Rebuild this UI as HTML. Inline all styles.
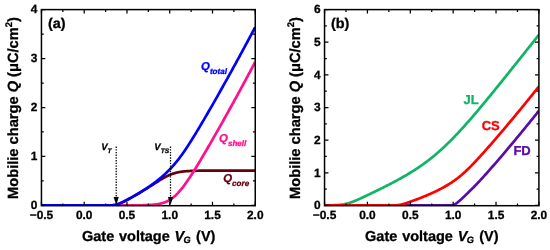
<!DOCTYPE html>
<html><head><meta charset="utf-8"><title>Mobile charge vs gate voltage</title>
<style>html,body{margin:0;padding:0;background:#fff}svg{display:block}</style></head>
<body>
<svg width="550" height="250" viewBox="0 0 550 250">
<style>
text{font-family:'Liberation Sans', sans-serif;font-weight:bold;text-rendering:geometricPrecision;stroke-width:0.3px;stroke-linejoin:round}
.tk,.ax,.pl,.vl{stroke:#000}
.tk{font-size:11.9px}
.ax{font-size:14.75px}
.pl{font-size:14px}
.ql{font-size:11.4px;font-style:italic}
.vl{font-size:9.5px;font-style:italic}
.cl{font-size:13px}
.c{fill:none;stroke-width:2.7;stroke-linejoin:round}
</style>
<rect width="550" height="250" fill="#fff"/>
<clipPath id="ca"><rect x="41.45" y="9.6" width="213.80" height="196.10"/></clipPath>
<clipPath id="cb"><rect x="324.55" y="9.6" width="214.35" height="196.10"/></clipPath>
<g clip-path="url(#ca)">
<path class="c" stroke="#640010" d="M41.45,205.35 L41.88,205.35 L42.31,205.35 L42.73,205.35 L43.16,205.35 L43.59,205.35 L44.02,205.35 L44.44,205.35 L44.87,205.35 L45.30,205.35 L45.73,205.35 L46.15,205.35 L46.58,205.35 L47.01,205.35 L47.44,205.35 L47.86,205.35 L48.29,205.35 L48.72,205.35 L49.15,205.35 L49.57,205.35 L50.00,205.35 L50.43,205.35 L50.86,205.35 L51.28,205.35 L51.71,205.35 L52.14,205.35 L52.57,205.35 L53.00,205.35 L53.42,205.35 L53.85,205.35 L54.28,205.35 L54.71,205.35 L55.13,205.35 L55.56,205.35 L55.99,205.35 L56.42,205.35 L56.84,205.35 L57.27,205.35 L57.70,205.35 L58.13,205.35 L58.55,205.35 L58.98,205.35 L59.41,205.35 L59.84,205.35 L60.26,205.35 L60.69,205.35 L61.12,205.35 L61.55,205.35 L61.97,205.35 L62.40,205.35 L62.83,205.35 L63.26,205.35 L63.69,205.35 L64.11,205.35 L64.54,205.35 L64.97,205.35 L65.40,205.35 L65.82,205.35 L66.25,205.35 L66.68,205.35 L67.11,205.35 L67.53,205.35 L67.96,205.35 L68.39,205.35 L68.82,205.35 L69.24,205.35 L69.67,205.35 L70.10,205.35 L70.53,205.35 L70.95,205.35 L71.38,205.35 L71.81,205.35 L72.24,205.35 L72.66,205.35 L73.09,205.35 L73.52,205.35 L73.95,205.35 L74.38,205.35 L74.80,205.35 L75.23,205.35 L75.66,205.35 L76.09,205.35 L76.51,205.35 L76.94,205.35 L77.37,205.35 L77.80,205.35 L78.22,205.35 L78.65,205.35 L79.08,205.35 L79.51,205.35 L79.93,205.35 L80.36,205.35 L80.79,205.35 L81.22,205.35 L81.64,205.35 L82.07,205.35 L82.50,205.35 L82.93,205.35 L83.35,205.35 L83.78,205.35 L84.21,205.35 L84.64,205.35 L85.07,205.35 L85.49,205.35 L85.92,205.35 L86.35,205.35 L86.78,205.35 L87.20,205.35 L87.63,205.35 L88.06,205.35 L88.49,205.35 L88.91,205.35 L89.34,205.35 L89.77,205.35 L90.20,205.35 L90.62,205.35 L91.05,205.35 L91.48,205.35 L91.91,205.35 L92.33,205.35 L92.76,205.35 L93.19,205.35 L93.62,205.35 L94.04,205.35 L94.47,205.35 L94.90,205.35 L95.33,205.35 L95.76,205.35 L96.18,205.35 L96.61,205.35 L97.04,205.35 L97.47,205.35 L97.89,205.35 L98.32,205.35 L98.75,205.35 L99.18,205.35 L99.60,205.35 L100.03,205.35 L100.46,205.35 L100.89,205.35 L101.31,205.35 L101.74,205.35 L102.17,205.35 L102.60,205.35 L103.02,205.35 L103.45,205.35 L103.88,205.35 L104.31,205.35 L104.73,205.35 L105.16,205.35 L105.59,205.35 L106.02,205.35 L106.45,205.35 L106.87,205.35 L107.30,205.35 L107.73,205.35 L108.16,205.35 L108.58,205.35 L109.01,205.35 L109.44,205.35 L109.87,205.35 L110.29,205.34 L110.72,205.32 L111.15,205.31 L111.58,205.29 L112.00,205.26 L112.43,205.24 L112.86,205.20 L113.29,205.16 L113.71,205.12 L114.14,205.07 L114.57,205.00 L115.00,204.93 L115.42,204.85 L115.85,204.76 L116.28,204.66 L116.71,204.55 L117.14,204.43 L117.56,204.29 L117.99,204.15 L118.42,204.00 L118.85,203.84 L119.27,203.67 L119.70,203.49 L120.13,203.31 L120.56,203.12 L120.98,202.93 L121.41,202.73 L121.84,202.53 L122.27,202.33 L122.69,202.12 L123.12,201.91 L123.55,201.70 L123.98,201.48 L124.40,201.26 L124.83,201.05 L125.26,200.83 L125.69,200.60 L126.11,200.38 L126.54,200.16 L126.97,199.93 L127.40,199.70 L127.83,199.48 L128.25,199.25 L128.68,199.02 L129.11,198.79 L129.54,198.55 L129.96,198.32 L130.39,198.09 L130.82,197.85 L131.25,197.62 L131.67,197.38 L132.10,197.14 L132.53,196.90 L132.96,196.67 L133.38,196.43 L133.81,196.18 L134.24,195.94 L134.67,195.70 L135.09,195.46 L135.52,195.21 L135.95,194.97 L136.38,194.72 L136.80,194.47 L137.23,194.22 L137.66,193.98 L138.09,193.73 L138.52,193.48 L138.94,193.22 L139.37,192.97 L139.80,192.72 L140.23,192.47 L140.65,192.21 L141.08,191.95 L141.51,191.70 L141.94,191.44 L142.36,191.18 L142.79,190.92 L143.22,190.66 L143.65,190.40 L144.07,190.14 L144.50,189.88 L144.93,189.62 L145.36,189.36 L145.78,189.09 L146.21,188.83 L146.64,188.56 L147.07,188.29 L147.49,188.03 L147.92,187.76 L148.35,187.49 L148.78,187.22 L149.21,186.95 L149.63,186.68 L150.06,186.41 L150.49,186.14 L150.92,185.87 L151.34,185.60 L151.77,185.33 L152.20,185.05 L152.63,184.78 L153.05,184.51 L153.48,184.24 L153.91,183.96 L154.34,183.69 L154.76,183.42 L155.19,183.15 L155.62,182.87 L156.05,182.60 L156.47,182.33 L156.90,182.06 L157.33,181.79 L157.76,181.52 L158.18,181.25 L158.61,180.99 L159.04,180.72 L159.47,180.46 L159.90,180.19 L160.32,179.93 L160.75,179.67 L161.18,179.41 L161.61,179.16 L162.03,178.90 L162.46,178.65 L162.89,178.40 L163.32,178.16 L163.74,177.91 L164.17,177.68 L164.60,177.44 L165.03,177.21 L165.45,176.98 L165.88,176.75 L166.31,176.53 L166.74,176.31 L167.16,176.10 L167.59,175.89 L168.02,175.69 L168.45,175.49 L168.87,175.29 L169.30,175.10 L169.73,174.92 L170.16,174.74 L170.59,174.56 L171.01,174.39 L171.44,174.23 L171.87,174.07 L172.30,173.92 L172.72,173.77 L173.15,173.62 L173.58,173.48 L174.01,173.35 L174.43,173.22 L174.86,173.10 L175.29,172.98 L175.72,172.86 L176.14,172.75 L176.57,172.65 L177.00,172.55 L177.43,172.45 L177.85,172.36 L178.28,172.27 L178.71,172.19 L179.14,172.11 L179.56,172.03 L179.99,171.96 L180.42,171.89 L180.85,171.82 L181.28,171.76 L181.70,171.70 L182.13,171.64 L182.56,171.59 L182.99,171.54 L183.41,171.49 L183.84,171.44 L184.27,171.40 L184.70,171.36 L185.12,171.32 L185.55,171.28 L185.98,171.24 L186.41,171.21 L186.83,171.18 L187.26,171.15 L187.69,171.12 L188.12,171.09 L188.54,171.06 L188.97,171.04 L189.40,171.02 L189.83,170.99 L190.25,170.97 L190.68,170.95 L191.11,170.93 L191.54,170.92 L191.97,170.90 L192.39,170.88 L192.82,170.87 L193.25,170.85 L193.68,170.84 L194.10,170.83 L194.53,170.81 L194.96,170.80 L195.39,170.79 L195.81,170.78 L196.24,170.77 L196.67,170.76 L197.10,170.75 L197.52,170.74 L197.95,170.73 L198.38,170.73 L198.81,170.72 L199.23,170.71 L199.66,170.71 L200.09,170.70 L200.52,170.69 L200.94,170.69 L201.37,170.68 L201.80,170.68 L202.23,170.67 L202.66,170.67 L203.08,170.66 L203.51,170.66 L203.94,170.65 L204.37,170.65 L204.79,170.65 L205.22,170.64 L205.65,170.64 L206.08,170.64 L206.50,170.63 L206.93,170.63 L207.36,170.63 L207.79,170.63 L208.21,170.62 L208.64,170.62 L209.07,170.62 L209.50,170.62 L209.92,170.61 L210.35,170.61 L210.78,170.61 L211.21,170.61 L211.63,170.61 L212.06,170.60 L212.49,170.60 L212.92,170.60 L213.35,170.60 L213.77,170.60 L214.20,170.60 L214.63,170.60 L215.06,170.60 L215.48,170.59 L215.91,170.59 L216.34,170.59 L216.77,170.59 L217.19,170.59 L217.62,170.59 L218.05,170.59 L218.48,170.59 L218.90,170.59 L219.33,170.59 L219.76,170.59 L220.19,170.58 L220.61,170.58 L221.04,170.58 L221.47,170.58 L221.90,170.58 L222.32,170.58 L222.75,170.58 L223.18,170.58 L223.61,170.58 L224.04,170.58 L224.46,170.58 L224.89,170.58 L225.32,170.58 L225.75,170.58 L226.17,170.58 L226.60,170.58 L227.03,170.58 L227.46,170.58 L227.88,170.58 L228.31,170.58 L228.74,170.58 L229.17,170.57 L229.59,170.57 L230.02,170.57 L230.45,170.57 L230.88,170.57 L231.30,170.57 L231.73,170.57 L232.16,170.57 L232.59,170.57 L233.01,170.57 L233.44,170.57 L233.87,170.57 L234.30,170.57 L234.73,170.57 L235.15,170.57 L235.58,170.57 L236.01,170.57 L236.44,170.57 L236.86,170.57 L237.29,170.57 L237.72,170.57 L238.15,170.57 L238.57,170.57 L239.00,170.57 L239.43,170.57 L239.86,170.57 L240.28,170.57 L240.71,170.57 L241.14,170.57 L241.57,170.57 L241.99,170.57 L242.42,170.57 L242.85,170.57 L243.28,170.57 L243.70,170.57 L244.13,170.57 L244.56,170.57 L244.99,170.57 L245.42,170.57 L245.84,170.57 L246.27,170.57 L246.70,170.57 L247.13,170.57 L247.55,170.57 L247.98,170.57 L248.41,170.57 L248.84,170.57 L249.26,170.57 L249.69,170.57 L250.12,170.57 L250.55,170.57 L250.97,170.57 L251.40,170.57 L251.83,170.57 L252.26,170.57 L252.68,170.57 L253.11,170.57 L253.54,170.57 L253.97,170.57 L254.39,170.57 L254.82,170.57 L255.25,170.57"/>
<path class="c" stroke="#ff0f8c" d="M41.45,205.35 L41.88,205.35 L42.31,205.35 L42.73,205.35 L43.16,205.35 L43.59,205.35 L44.02,205.35 L44.44,205.35 L44.87,205.35 L45.30,205.35 L45.73,205.35 L46.15,205.35 L46.58,205.35 L47.01,205.35 L47.44,205.35 L47.86,205.35 L48.29,205.35 L48.72,205.35 L49.15,205.35 L49.57,205.35 L50.00,205.35 L50.43,205.35 L50.86,205.35 L51.28,205.35 L51.71,205.35 L52.14,205.35 L52.57,205.35 L53.00,205.35 L53.42,205.35 L53.85,205.35 L54.28,205.35 L54.71,205.35 L55.13,205.35 L55.56,205.35 L55.99,205.35 L56.42,205.35 L56.84,205.35 L57.27,205.35 L57.70,205.35 L58.13,205.35 L58.55,205.35 L58.98,205.35 L59.41,205.35 L59.84,205.35 L60.26,205.35 L60.69,205.35 L61.12,205.35 L61.55,205.35 L61.97,205.35 L62.40,205.35 L62.83,205.35 L63.26,205.35 L63.69,205.35 L64.11,205.35 L64.54,205.35 L64.97,205.35 L65.40,205.35 L65.82,205.35 L66.25,205.35 L66.68,205.35 L67.11,205.35 L67.53,205.35 L67.96,205.35 L68.39,205.35 L68.82,205.35 L69.24,205.35 L69.67,205.35 L70.10,205.35 L70.53,205.35 L70.95,205.35 L71.38,205.35 L71.81,205.35 L72.24,205.35 L72.66,205.35 L73.09,205.35 L73.52,205.35 L73.95,205.35 L74.38,205.35 L74.80,205.35 L75.23,205.35 L75.66,205.35 L76.09,205.35 L76.51,205.35 L76.94,205.35 L77.37,205.35 L77.80,205.35 L78.22,205.35 L78.65,205.35 L79.08,205.35 L79.51,205.35 L79.93,205.35 L80.36,205.35 L80.79,205.35 L81.22,205.35 L81.64,205.35 L82.07,205.35 L82.50,205.35 L82.93,205.35 L83.35,205.35 L83.78,205.35 L84.21,205.35 L84.64,205.35 L85.07,205.35 L85.49,205.35 L85.92,205.35 L86.35,205.35 L86.78,205.35 L87.20,205.35 L87.63,205.35 L88.06,205.35 L88.49,205.35 L88.91,205.35 L89.34,205.35 L89.77,205.35 L90.20,205.35 L90.62,205.35 L91.05,205.35 L91.48,205.35 L91.91,205.35 L92.33,205.35 L92.76,205.35 L93.19,205.35 L93.62,205.35 L94.04,205.35 L94.47,205.35 L94.90,205.35 L95.33,205.35 L95.76,205.35 L96.18,205.35 L96.61,205.35 L97.04,205.35 L97.47,205.35 L97.89,205.35 L98.32,205.35 L98.75,205.35 L99.18,205.35 L99.60,205.35 L100.03,205.35 L100.46,205.35 L100.89,205.35 L101.31,205.35 L101.74,205.35 L102.17,205.35 L102.60,205.35 L103.02,205.35 L103.45,205.35 L103.88,205.35 L104.31,205.35 L104.73,205.35 L105.16,205.35 L105.59,205.35 L106.02,205.35 L106.45,205.35 L106.87,205.35 L107.30,205.35 L107.73,205.35 L108.16,205.35 L108.58,205.35 L109.01,205.35 L109.44,205.35 L109.87,205.35 L110.29,205.35 L110.72,205.35 L111.15,205.35 L111.58,205.35 L112.00,205.35 L112.43,205.35 L112.86,205.35 L113.29,205.35 L113.71,205.35 L114.14,205.35 L114.57,205.35 L115.00,205.35 L115.42,205.35 L115.85,205.35 L116.28,205.35 L116.71,205.35 L117.14,205.35 L117.56,205.35 L117.99,205.35 L118.42,205.35 L118.85,205.35 L119.27,205.35 L119.70,205.35 L120.13,205.35 L120.56,205.35 L120.98,205.35 L121.41,205.35 L121.84,205.35 L122.27,205.35 L122.69,205.35 L123.12,205.35 L123.55,205.35 L123.98,205.35 L124.40,205.35 L124.83,205.35 L125.26,205.35 L125.69,205.35 L126.11,205.35 L126.54,205.35 L126.97,205.35 L127.40,205.35 L127.83,205.35 L128.25,205.35 L128.68,205.35 L129.11,205.35 L129.54,205.35 L129.96,205.35 L130.39,205.35 L130.82,205.35 L131.25,205.35 L131.67,205.35 L132.10,205.35 L132.53,205.35 L132.96,205.35 L133.38,205.35 L133.81,205.35 L134.24,205.35 L134.67,205.34 L135.09,205.34 L135.52,205.34 L135.95,205.33 L136.38,205.33 L136.80,205.32 L137.23,205.32 L137.66,205.32 L138.09,205.31 L138.52,205.31 L138.94,205.30 L139.37,205.29 L139.80,205.29 L140.23,205.28 L140.65,205.27 L141.08,205.27 L141.51,205.26 L141.94,205.25 L142.36,205.24 L142.79,205.23 L143.22,205.22 L143.65,205.21 L144.07,205.20 L144.50,205.19 L144.93,205.17 L145.36,205.16 L145.78,205.14 L146.21,205.13 L146.64,205.11 L147.07,205.10 L147.49,205.08 L147.92,205.06 L148.35,205.04 L148.78,205.02 L149.21,204.99 L149.63,204.97 L150.06,204.94 L150.49,204.92 L150.92,204.89 L151.34,204.86 L151.77,204.82 L152.20,204.79 L152.63,204.75 L153.05,204.72 L153.48,204.68 L153.91,204.63 L154.34,204.59 L154.76,204.54 L155.19,204.49 L155.62,204.44 L156.05,204.38 L156.47,204.32 L156.90,204.26 L157.33,204.20 L157.76,204.13 L158.18,204.05 L158.61,203.98 L159.04,203.90 L159.47,203.81 L159.90,203.72 L160.32,203.63 L160.75,203.53 L161.18,203.42 L161.61,203.31 L162.03,203.20 L162.46,203.07 L162.89,202.95 L163.32,202.81 L163.74,202.67 L164.17,202.53 L164.60,202.37 L165.03,202.21 L165.45,202.04 L165.88,201.87 L166.31,201.68 L166.74,201.49 L167.16,201.29 L167.59,201.08 L168.02,200.86 L168.45,200.64 L168.87,200.40 L169.30,200.15 L169.73,199.90 L170.16,199.63 L170.59,199.36 L171.01,199.08 L171.44,198.78 L171.87,198.48 L172.30,198.16 L172.72,197.84 L173.15,197.50 L173.58,197.15 L174.01,196.80 L174.43,196.43 L174.86,196.05 L175.29,195.67 L175.72,195.27 L176.14,194.86 L176.57,194.44 L177.00,194.01 L177.43,193.57 L177.85,193.12 L178.28,192.66 L178.71,192.19 L179.14,191.72 L179.56,191.23 L179.99,190.73 L180.42,190.23 L180.85,189.71 L181.28,189.19 L181.70,188.66 L182.13,188.12 L182.56,187.58 L182.99,187.02 L183.41,186.46 L183.84,185.89 L184.27,185.32 L184.70,184.73 L185.12,184.15 L185.55,183.55 L185.98,182.95 L186.41,182.34 L186.83,181.73 L187.26,181.11 L187.69,180.49 L188.12,179.86 L188.54,179.22 L188.97,178.59 L189.40,177.94 L189.83,177.30 L190.25,176.65 L190.68,175.99 L191.11,175.33 L191.54,174.67 L191.97,174.00 L192.39,173.33 L192.82,172.66 L193.25,171.98 L193.68,171.30 L194.10,170.62 L194.53,169.94 L194.96,169.25 L195.39,168.56 L195.81,167.87 L196.24,167.17 L196.67,166.48 L197.10,165.78 L197.52,165.07 L197.95,164.37 L198.38,163.67 L198.81,162.96 L199.23,162.25 L199.66,161.54 L200.09,160.83 L200.52,160.11 L200.94,159.40 L201.37,158.68 L201.80,157.96 L202.23,157.24 L202.66,156.52 L203.08,155.80 L203.51,155.07 L203.94,154.35 L204.37,153.62 L204.79,152.89 L205.22,152.17 L205.65,151.44 L206.08,150.70 L206.50,149.97 L206.93,149.24 L207.36,148.51 L207.79,147.77 L208.21,147.03 L208.64,146.30 L209.07,145.56 L209.50,144.82 L209.92,144.08 L210.35,143.34 L210.78,142.60 L211.21,141.86 L211.63,141.11 L212.06,140.37 L212.49,139.62 L212.92,138.88 L213.35,138.13 L213.77,137.39 L214.20,136.64 L214.63,135.89 L215.06,135.14 L215.48,134.39 L215.91,133.64 L216.34,132.89 L216.77,132.14 L217.19,131.38 L217.62,130.63 L218.05,129.88 L218.48,129.12 L218.90,128.37 L219.33,127.61 L219.76,126.85 L220.19,126.09 L220.61,125.34 L221.04,124.58 L221.47,123.82 L221.90,123.06 L222.32,122.30 L222.75,121.54 L223.18,120.77 L223.61,120.01 L224.04,119.25 L224.46,118.48 L224.89,117.72 L225.32,116.95 L225.75,116.19 L226.17,115.42 L226.60,114.65 L227.03,113.89 L227.46,113.12 L227.88,112.35 L228.31,111.58 L228.74,110.81 L229.17,110.04 L229.59,109.27 L230.02,108.49 L230.45,107.72 L230.88,106.95 L231.30,106.17 L231.73,105.40 L232.16,104.63 L232.59,103.85 L233.01,103.07 L233.44,102.30 L233.87,101.52 L234.30,100.74 L234.73,99.96 L235.15,99.18 L235.58,98.40 L236.01,97.62 L236.44,96.84 L236.86,96.06 L237.29,95.28 L237.72,94.49 L238.15,93.71 L238.57,92.93 L239.00,92.14 L239.43,91.36 L239.86,90.57 L240.28,89.79 L240.71,89.00 L241.14,88.21 L241.57,87.42 L241.99,86.63 L242.42,85.84 L242.85,85.05 L243.28,84.26 L243.70,83.47 L244.13,82.68 L244.56,81.89 L244.99,81.10 L245.42,80.30 L245.84,79.51 L246.27,78.71 L246.70,77.92 L247.13,77.12 L247.55,76.33 L247.98,75.53 L248.41,74.73 L248.84,73.93 L249.26,73.14 L249.69,72.34 L250.12,71.54 L250.55,70.74 L250.97,69.93 L251.40,69.13 L251.83,68.33 L252.26,67.53 L252.68,66.72 L253.11,65.92 L253.54,65.12 L253.97,64.31 L254.39,63.50 L254.82,62.70 L255.25,61.89"/>
<path class="c" stroke="#0000ff" d="M41.45,205.35 L41.88,205.35 L42.31,205.35 L42.73,205.35 L43.16,205.35 L43.59,205.35 L44.02,205.35 L44.44,205.35 L44.87,205.35 L45.30,205.35 L45.73,205.35 L46.15,205.35 L46.58,205.35 L47.01,205.35 L47.44,205.35 L47.86,205.35 L48.29,205.35 L48.72,205.35 L49.15,205.35 L49.57,205.35 L50.00,205.35 L50.43,205.35 L50.86,205.35 L51.28,205.35 L51.71,205.35 L52.14,205.35 L52.57,205.35 L53.00,205.35 L53.42,205.35 L53.85,205.35 L54.28,205.35 L54.71,205.35 L55.13,205.35 L55.56,205.35 L55.99,205.35 L56.42,205.35 L56.84,205.35 L57.27,205.35 L57.70,205.35 L58.13,205.35 L58.55,205.35 L58.98,205.35 L59.41,205.35 L59.84,205.35 L60.26,205.35 L60.69,205.35 L61.12,205.35 L61.55,205.35 L61.97,205.35 L62.40,205.35 L62.83,205.35 L63.26,205.35 L63.69,205.35 L64.11,205.35 L64.54,205.35 L64.97,205.35 L65.40,205.35 L65.82,205.35 L66.25,205.35 L66.68,205.35 L67.11,205.35 L67.53,205.35 L67.96,205.35 L68.39,205.35 L68.82,205.35 L69.24,205.35 L69.67,205.35 L70.10,205.35 L70.53,205.35 L70.95,205.35 L71.38,205.35 L71.81,205.35 L72.24,205.35 L72.66,205.35 L73.09,205.35 L73.52,205.35 L73.95,205.35 L74.38,205.35 L74.80,205.35 L75.23,205.35 L75.66,205.35 L76.09,205.35 L76.51,205.35 L76.94,205.35 L77.37,205.35 L77.80,205.35 L78.22,205.35 L78.65,205.35 L79.08,205.35 L79.51,205.35 L79.93,205.35 L80.36,205.35 L80.79,205.35 L81.22,205.35 L81.64,205.35 L82.07,205.35 L82.50,205.35 L82.93,205.35 L83.35,205.35 L83.78,205.35 L84.21,205.35 L84.64,205.35 L85.07,205.35 L85.49,205.35 L85.92,205.35 L86.35,205.35 L86.78,205.35 L87.20,205.35 L87.63,205.35 L88.06,205.35 L88.49,205.35 L88.91,205.35 L89.34,205.35 L89.77,205.35 L90.20,205.35 L90.62,205.35 L91.05,205.35 L91.48,205.35 L91.91,205.35 L92.33,205.35 L92.76,205.35 L93.19,205.35 L93.62,205.35 L94.04,205.35 L94.47,205.35 L94.90,205.35 L95.33,205.35 L95.76,205.35 L96.18,205.35 L96.61,205.35 L97.04,205.35 L97.47,205.35 L97.89,205.35 L98.32,205.35 L98.75,205.35 L99.18,205.35 L99.60,205.35 L100.03,205.35 L100.46,205.35 L100.89,205.35 L101.31,205.35 L101.74,205.35 L102.17,205.35 L102.60,205.35 L103.02,205.35 L103.45,205.35 L103.88,205.35 L104.31,205.35 L104.73,205.35 L105.16,205.35 L105.59,205.35 L106.02,205.35 L106.45,205.35 L106.87,205.35 L107.30,205.35 L107.73,205.35 L108.16,205.35 L108.58,205.35 L109.01,205.35 L109.44,205.35 L109.87,205.35 L110.29,205.33 L110.72,205.32 L111.15,205.30 L111.58,205.29 L112.00,205.26 L112.43,205.23 L112.86,205.20 L113.29,205.16 L113.71,205.12 L114.14,205.06 L114.57,205.00 L115.00,204.93 L115.42,204.85 L115.85,204.76 L116.28,204.66 L116.71,204.54 L117.14,204.42 L117.56,204.29 L117.99,204.14 L118.42,203.99 L118.85,203.83 L119.27,203.66 L119.70,203.49 L120.13,203.30 L120.56,203.12 L120.98,202.92 L121.41,202.72 L121.84,202.52 L122.27,202.32 L122.69,202.11 L123.12,201.90 L123.55,201.68 L123.98,201.47 L124.40,201.25 L124.83,201.03 L125.26,200.81 L125.69,200.59 L126.11,200.36 L126.54,200.14 L126.97,199.91 L127.40,199.68 L127.83,199.45 L128.25,199.22 L128.68,198.99 L129.11,198.76 L129.54,198.53 L129.96,198.29 L130.39,198.06 L130.82,197.82 L131.25,197.58 L131.67,197.34 L132.10,197.10 L132.53,196.86 L132.96,196.62 L133.38,196.38 L133.81,196.13 L134.24,195.89 L134.67,195.64 L135.09,195.40 L135.52,195.15 L135.95,194.90 L136.38,194.65 L136.80,194.40 L137.23,194.15 L137.66,193.89 L138.09,193.64 L138.52,193.38 L138.94,193.12 L139.37,192.87 L139.80,192.61 L140.23,192.35 L140.65,192.08 L141.08,191.82 L141.51,191.56 L141.94,191.29 L142.36,191.02 L142.79,190.75 L143.22,190.48 L143.65,190.21 L144.07,189.94 L144.50,189.67 L144.93,189.39 L145.36,189.11 L145.78,188.83 L146.21,188.55 L146.64,188.27 L147.07,187.99 L147.49,187.70 L147.92,187.42 L148.35,187.13 L148.78,186.84 L149.21,186.55 L149.63,186.25 L150.06,185.96 L150.49,185.66 L150.92,185.36 L151.34,185.06 L151.77,184.75 L152.20,184.45 L152.63,184.14 L153.05,183.83 L153.48,183.51 L153.91,183.20 L154.34,182.88 L154.76,182.56 L155.19,182.24 L155.62,181.91 L156.05,181.59 L156.47,181.25 L156.90,180.92 L157.33,180.59 L157.76,180.25 L158.18,179.91 L158.61,179.56 L159.04,179.22 L159.47,178.87 L159.90,178.51 L160.32,178.16 L160.75,177.80 L161.18,177.43 L161.61,177.07 L162.03,176.70 L162.46,176.33 L162.89,175.95 L163.32,175.57 L163.74,175.19 L164.17,174.80 L164.60,174.41 L165.03,174.02 L165.45,173.62 L165.88,173.22 L166.31,172.81 L166.74,172.40 L167.16,171.99 L167.59,171.57 L168.02,171.15 L168.45,170.72 L168.87,170.29 L169.30,169.86 L169.73,169.42 L170.16,168.97 L170.59,168.52 L171.01,168.07 L171.44,167.61 L171.87,167.15 L172.30,166.68 L172.72,166.20 L173.15,165.72 L173.58,165.24 L174.01,164.75 L174.43,164.25 L174.86,163.75 L175.29,163.24 L175.72,162.73 L176.14,162.21 L176.57,161.69 L177.00,161.16 L177.43,160.62 L177.85,160.08 L178.28,159.54 L178.71,158.98 L179.14,158.43 L179.56,157.86 L179.99,157.29 L180.42,156.72 L180.85,156.14 L181.28,155.55 L181.70,154.96 L182.13,154.37 L182.56,153.77 L182.99,153.16 L183.41,152.55 L183.84,151.94 L184.27,151.32 L184.70,150.69 L185.12,150.06 L185.55,149.43 L185.98,148.79 L186.41,148.15 L186.83,147.51 L187.26,146.86 L187.69,146.21 L188.12,145.55 L188.54,144.89 L188.97,144.23 L189.40,143.56 L189.83,142.89 L190.25,142.22 L190.68,141.54 L191.11,140.87 L191.54,140.18 L191.97,139.50 L192.39,138.82 L192.82,138.13 L193.25,137.44 L193.68,136.74 L194.10,136.05 L194.53,135.35 L194.96,134.65 L195.39,133.95 L195.81,133.25 L196.24,132.54 L196.67,131.84 L197.10,131.13 L197.52,130.42 L197.95,129.71 L198.38,128.99 L198.81,128.28 L199.23,127.56 L199.66,126.84 L200.09,126.13 L200.52,125.41 L200.94,124.68 L201.37,123.96 L201.80,123.24 L202.23,122.51 L202.66,121.79 L203.08,121.06 L203.51,120.33 L203.94,119.60 L204.37,118.87 L204.79,118.14 L205.22,117.41 L205.65,116.68 L206.08,115.94 L206.50,115.21 L206.93,114.47 L207.36,113.73 L207.79,113.00 L208.21,112.26 L208.64,111.52 L209.07,110.78 L209.50,110.04 L209.92,109.29 L210.35,108.55 L210.78,107.81 L211.21,107.06 L211.63,106.32 L212.06,105.57 L212.49,104.83 L212.92,104.08 L213.35,103.33 L213.77,102.59 L214.20,101.84 L214.63,101.09 L215.06,100.34 L215.48,99.58 L215.91,98.83 L216.34,98.08 L216.77,97.33 L217.19,96.57 L217.62,95.82 L218.05,95.06 L218.48,94.31 L218.90,93.55 L219.33,92.79 L219.76,92.04 L220.19,91.28 L220.61,90.52 L221.04,89.76 L221.47,89.00 L221.90,88.24 L222.32,87.48 L222.75,86.72 L223.18,85.95 L223.61,85.19 L224.04,84.43 L224.46,83.66 L224.89,82.90 L225.32,82.13 L225.75,81.36 L226.17,80.60 L226.60,79.83 L227.03,79.06 L227.46,78.29 L227.88,77.52 L228.31,76.75 L228.74,75.98 L229.17,75.21 L229.59,74.44 L230.02,73.67 L230.45,72.90 L230.88,72.12 L231.30,71.35 L231.73,70.57 L232.16,69.80 L232.59,69.02 L233.01,68.25 L233.44,67.47 L233.87,66.69 L234.30,65.91 L234.73,65.13 L235.15,64.35 L235.58,63.57 L236.01,62.79 L236.44,62.01 L236.86,61.23 L237.29,60.45 L237.72,59.67 L238.15,58.88 L238.57,58.10 L239.00,57.31 L239.43,56.53 L239.86,55.74 L240.28,54.96 L240.71,54.17 L241.14,53.38 L241.57,52.59 L241.99,51.80 L242.42,51.01 L242.85,50.22 L243.28,49.43 L243.70,48.64 L244.13,47.85 L244.56,47.06 L244.99,46.27 L245.42,45.47 L245.84,44.68 L246.27,43.88 L246.70,43.09 L247.13,42.29 L247.55,41.50 L247.98,40.70 L248.41,39.90 L248.84,39.10 L249.26,38.30 L249.69,37.50 L250.12,36.70 L250.55,35.90 L250.97,35.10 L251.40,34.30 L251.83,33.50 L252.26,32.70 L252.68,31.89 L253.11,31.09 L253.54,30.28 L253.97,29.48 L254.39,28.67 L254.82,27.87 L255.25,27.06"/>
</g>
<path d="M116.2,146.5V198" stroke="#000" stroke-width="1.25" stroke-dasharray="1.4,1.3" fill="none"/>
<path d="M113.60000000000001,197.0L118.8,197.0L116.2,204.9Z" fill="#000"/>
<path d="M170.5,146.5V198" stroke="#000" stroke-width="1.25" stroke-dasharray="1.4,1.3" fill="none"/>
<path d="M167.9,197.0L173.1,197.0L170.5,204.9Z" fill="#000"/>
<rect x="41.45" y="9.6" width="213.80" height="196.10" fill="none" stroke="#000" stroke-width="1.5"/>
<path d="M41.45,205.7v-3.9M41.45,9.6v3.9M62.83,205.7v-2.3M62.83,9.6v2.3M84.21,205.7v-3.9M84.21,9.6v3.9M105.59,205.7v-2.3M105.59,9.6v2.3M126.97,205.7v-3.9M126.97,9.6v3.9M148.35,205.7v-2.3M148.35,9.6v2.3M169.73,205.7v-3.9M169.73,9.6v3.9M191.11,205.7v-2.3M191.11,9.6v2.3M212.49,205.7v-3.9M212.49,9.6v3.9M233.87,205.7v-2.3M233.87,9.6v2.3M255.25,205.7v-3.9M255.25,9.6v3.9M41.45,205.40h3.9M255.25,205.40h-3.9M41.45,156.45h3.9M255.25,156.45h-3.9M41.45,107.50h3.9M255.25,107.50h-3.9M41.45,58.55h3.9M255.25,58.55h-3.9M41.45,9.60h3.9M255.25,9.60h-3.9M41.45,180.93h2.3M255.25,180.93h-2.3M41.45,131.97h2.3M255.25,131.97h-2.3M41.45,83.03h2.3M255.25,83.03h-2.3M41.45,34.07h2.3M255.25,34.07h-2.3" stroke="#000" stroke-width="1.25" fill="none"/>
<text transform="translate(41.45,219.3) scale(1,1)" text-anchor="middle" class="tk">−0.5</text>
<text transform="translate(84.21,219.3) scale(1,1)" text-anchor="middle" class="tk">0.0</text>
<text transform="translate(126.97,219.3) scale(1,1)" text-anchor="middle" class="tk">0.5</text>
<text transform="translate(169.73,219.3) scale(1,1)" text-anchor="middle" class="tk">1.0</text>
<text transform="translate(212.49,219.3) scale(1,1)" text-anchor="middle" class="tk">1.5</text>
<text transform="translate(255.25,219.3) scale(1,1)" text-anchor="middle" class="tk">2.0</text>
<text transform="translate(37.45,209.15) scale(1,1)" text-anchor="end" class="tk">0</text>
<text transform="translate(37.45,160.20) scale(1,1)" text-anchor="end" class="tk">1</text>
<text transform="translate(37.45,111.25) scale(1,1)" text-anchor="end" class="tk">2</text>
<text transform="translate(37.45,62.30) scale(1,1)" text-anchor="end" class="tk">3</text>
<text transform="translate(37.45,13.35) scale(1,1)" text-anchor="end" class="tk">4</text>
<text transform="translate(148.7,241.1) scale(1,1)" text-anchor="middle" class="ax" style="font-size:14.5px;word-spacing:0.8px">Gate voltage <tspan font-style="italic">V</tspan><tspan font-style="italic" font-size="9.2" dy="2.3" dx="-0.7">G</tspan><tspan dy="-2.3" dx="0.5"> (V)</tspan></text>
<text transform="translate(17.5,108.0) rotate(-90) scale(0.993,1)" text-anchor="middle" class="ax">Mobilie charge <tspan font-style="italic">Q</tspan> (μC/cm<tspan font-size="9.6" dy="-5.8">2</tspan><tspan dy="5.8">)</tspan></text>
<text transform="translate(48.0,28.1) scale(1.03,1)" class="pl">(a)</text>
<text x="201.0" y="69.9" class="ql" fill="#0000ff" stroke="#0000ff">Q<tspan font-size="8.1" dy="4.1">total</tspan></text>
<text x="219.0" y="141.9" class="ql" fill="#ff0f8c" stroke="#ff0f8c">Q<tspan font-size="8.1" dy="4.1">shell</tspan></text>
<text x="223.2" y="181.6" class="ql" fill="#640010" stroke="#640010">Q<tspan font-size="8.1" dy="4.1">core</tspan></text>
<text transform="translate(101.2,150.2)" class="vl">V<tspan font-size="6.6" dy="2.9">T</tspan></text>
<text transform="translate(154.3,150.2)" class="vl">V<tspan font-size="6.6" dy="2.9">TS</tspan></text>
<g clip-path="url(#cb)">
<path class="c" stroke="#0fb464" d="M324.55,205.35 L324.98,205.35 L325.41,205.34 L325.84,205.34 L326.26,205.34 L326.69,205.34 L327.12,205.33 L327.55,205.33 L327.98,205.32 L328.41,205.32 L328.84,205.31 L329.27,205.31 L329.69,205.30 L330.12,205.30 L330.55,205.29 L330.98,205.28 L331.41,205.27 L331.84,205.27 L332.27,205.26 L332.70,205.25 L333.12,205.23 L333.55,205.22 L333.98,205.21 L334.41,205.19 L334.84,205.18 L335.27,205.16 L335.70,205.14 L336.12,205.12 L336.55,205.10 L336.98,205.08 L337.41,205.05 L337.84,205.02 L338.27,204.99 L338.70,204.96 L339.13,204.92 L339.55,204.89 L339.98,204.84 L340.41,204.80 L340.84,204.75 L341.27,204.70 L341.70,204.65 L342.13,204.59 L342.56,204.53 L342.98,204.46 L343.41,204.39 L343.84,204.32 L344.27,204.24 L344.70,204.15 L345.13,204.06 L345.56,203.97 L345.99,203.87 L346.41,203.77 L346.84,203.66 L347.27,203.55 L347.70,203.43 L348.13,203.31 L348.56,203.19 L348.99,203.06 L349.41,202.92 L349.84,202.78 L350.27,202.64 L350.70,202.49 L351.13,202.34 L351.56,202.19 L351.99,202.03 L352.42,201.87 L352.84,201.71 L353.27,201.54 L353.70,201.37 L354.13,201.20 L354.56,201.02 L354.99,200.85 L355.42,200.67 L355.85,200.49 L356.27,200.31 L356.70,200.12 L357.13,199.94 L357.56,199.75 L357.99,199.56 L358.42,199.37 L358.85,199.18 L359.27,198.99 L359.70,198.80 L360.13,198.60 L360.56,198.41 L360.99,198.21 L361.42,198.02 L361.85,197.82 L362.28,197.62 L362.70,197.42 L363.13,197.23 L363.56,197.03 L363.99,196.83 L364.42,196.63 L364.85,196.43 L365.28,196.22 L365.71,196.02 L366.13,195.82 L366.56,195.62 L366.99,195.41 L367.42,195.21 L367.85,195.01 L368.28,194.80 L368.71,194.60 L369.13,194.40 L369.56,194.19 L369.99,193.99 L370.42,193.78 L370.85,193.58 L371.28,193.37 L371.71,193.16 L372.14,192.96 L372.56,192.75 L372.99,192.54 L373.42,192.34 L373.85,192.13 L374.28,191.92 L374.71,191.71 L375.14,191.50 L375.57,191.29 L375.99,191.09 L376.42,190.88 L376.85,190.67 L377.28,190.46 L377.71,190.25 L378.14,190.04 L378.57,189.83 L378.99,189.61 L379.42,189.40 L379.85,189.19 L380.28,188.98 L380.71,188.77 L381.14,188.55 L381.57,188.34 L382.00,188.13 L382.42,187.91 L382.85,187.70 L383.28,187.48 L383.71,187.27 L384.14,187.05 L384.57,186.84 L385.00,186.62 L385.43,186.41 L385.85,186.19 L386.28,185.97 L386.71,185.75 L387.14,185.53 L387.57,185.32 L388.00,185.10 L388.43,184.88 L388.86,184.66 L389.28,184.43 L389.71,184.21 L390.14,183.99 L390.57,183.77 L391.00,183.55 L391.43,183.32 L391.86,183.10 L392.28,182.87 L392.71,182.65 L393.14,182.42 L393.57,182.20 L394.00,181.97 L394.43,181.74 L394.86,181.51 L395.29,181.28 L395.71,181.05 L396.14,180.82 L396.57,180.59 L397.00,180.36 L397.43,180.13 L397.86,179.89 L398.29,179.66 L398.72,179.43 L399.14,179.19 L399.57,178.95 L400.00,178.72 L400.43,178.48 L400.86,178.24 L401.29,178.00 L401.72,177.76 L402.14,177.52 L402.57,177.27 L403.00,177.03 L403.43,176.79 L403.86,176.54 L404.29,176.29 L404.72,176.05 L405.15,175.80 L405.57,175.55 L406.00,175.30 L406.43,175.05 L406.86,174.80 L407.29,174.54 L407.72,174.29 L408.15,174.03 L408.58,173.78 L409.00,173.52 L409.43,173.26 L409.86,173.00 L410.29,172.74 L410.72,172.47 L411.15,172.21 L411.58,171.94 L412.00,171.68 L412.43,171.41 L412.86,171.14 L413.29,170.87 L413.72,170.60 L414.15,170.32 L414.58,170.05 L415.01,169.77 L415.43,169.50 L415.86,169.22 L416.29,168.94 L416.72,168.66 L417.15,168.37 L417.58,168.09 L418.01,167.80 L418.44,167.51 L418.86,167.22 L419.29,166.93 L419.72,166.64 L420.15,166.35 L420.58,166.05 L421.01,165.75 L421.44,165.45 L421.86,165.15 L422.29,164.85 L422.72,164.54 L423.15,164.24 L423.58,163.93 L424.01,163.62 L424.44,163.31 L424.87,163.00 L425.29,162.68 L425.72,162.37 L426.15,162.05 L426.58,161.73 L427.01,161.40 L427.44,161.08 L427.87,160.75 L428.30,160.43 L428.72,160.10 L429.15,159.77 L429.58,159.43 L430.01,159.10 L430.44,158.76 L430.87,158.42 L431.30,158.08 L431.73,157.73 L432.15,157.39 L432.58,157.04 L433.01,156.69 L433.44,156.34 L433.87,155.99 L434.30,155.63 L434.73,155.28 L435.15,154.92 L435.58,154.56 L436.01,154.19 L436.44,153.83 L436.87,153.46 L437.30,153.09 L437.73,152.72 L438.16,152.35 L438.58,151.97 L439.01,151.60 L439.44,151.22 L439.87,150.84 L440.30,150.45 L440.73,150.07 L441.16,149.68 L441.59,149.29 L442.01,148.90 L442.44,148.51 L442.87,148.11 L443.30,147.71 L443.73,147.32 L444.16,146.91 L444.59,146.51 L445.01,146.11 L445.44,145.70 L445.87,145.29 L446.30,144.88 L446.73,144.47 L447.16,144.05 L447.59,143.64 L448.02,143.22 L448.44,142.80 L448.87,142.38 L449.30,141.96 L449.73,141.53 L450.16,141.10 L450.59,140.67 L451.02,140.24 L451.45,139.81 L451.87,139.38 L452.30,138.94 L452.73,138.50 L453.16,138.06 L453.59,137.62 L454.02,137.18 L454.45,136.74 L454.87,136.29 L455.30,135.84 L455.73,135.39 L456.16,134.94 L456.59,134.49 L457.02,134.04 L457.45,133.58 L457.88,133.13 L458.30,132.67 L458.73,132.21 L459.16,131.75 L459.59,131.28 L460.02,130.82 L460.45,130.36 L460.88,129.89 L461.31,129.42 L461.73,128.95 L462.16,128.48 L462.59,128.01 L463.02,127.54 L463.45,127.06 L463.88,126.58 L464.31,126.11 L464.73,125.63 L465.16,125.15 L465.59,124.67 L466.02,124.19 L466.45,123.70 L466.88,123.22 L467.31,122.73 L467.74,122.25 L468.16,121.76 L468.59,121.27 L469.02,120.78 L469.45,120.29 L469.88,119.80 L470.31,119.31 L470.74,118.81 L471.17,118.32 L471.59,117.82 L472.02,117.33 L472.45,116.83 L472.88,116.33 L473.31,115.83 L473.74,115.33 L474.17,114.83 L474.59,114.33 L475.02,113.83 L475.45,113.32 L475.88,112.82 L476.31,112.32 L476.74,111.81 L477.17,111.30 L477.60,110.80 L478.02,110.29 L478.45,109.78 L478.88,109.27 L479.31,108.76 L479.74,108.25 L480.17,107.74 L480.60,107.23 L481.03,106.71 L481.45,106.20 L481.88,105.69 L482.31,105.17 L482.74,104.66 L483.17,104.14 L483.60,103.63 L484.03,103.11 L484.46,102.59 L484.88,102.07 L485.31,101.56 L485.74,101.04 L486.17,100.52 L486.60,100.00 L487.03,99.48 L487.46,98.96 L487.88,98.44 L488.31,97.92 L488.74,97.39 L489.17,96.87 L489.60,96.35 L490.03,95.82 L490.46,95.30 L490.89,94.78 L491.31,94.25 L491.74,93.73 L492.17,93.20 L492.60,92.68 L493.03,92.15 L493.46,91.62 L493.89,91.10 L494.32,90.57 L494.74,90.04 L495.17,89.51 L495.60,88.99 L496.03,88.46 L496.46,87.93 L496.89,87.40 L497.32,86.87 L497.74,86.34 L498.17,85.81 L498.60,85.28 L499.03,84.75 L499.46,84.22 L499.89,83.69 L500.32,83.16 L500.75,82.63 L501.17,82.10 L501.60,81.56 L502.03,81.03 L502.46,80.50 L502.89,79.97 L503.32,79.44 L503.75,78.90 L504.18,78.37 L504.60,77.84 L505.03,77.30 L505.46,76.77 L505.89,76.24 L506.32,75.70 L506.75,75.17 L507.18,74.63 L507.60,74.10 L508.03,73.56 L508.46,73.03 L508.89,72.49 L509.32,71.96 L509.75,71.42 L510.18,70.89 L510.61,70.35 L511.03,69.82 L511.46,69.28 L511.89,68.74 L512.32,68.21 L512.75,67.67 L513.18,67.13 L513.61,66.60 L514.04,66.06 L514.46,65.52 L514.89,64.99 L515.32,64.45 L515.75,63.91 L516.18,63.38 L516.61,62.84 L517.04,62.30 L517.46,61.76 L517.89,61.23 L518.32,60.69 L518.75,60.15 L519.18,59.61 L519.61,59.07 L520.04,58.54 L520.47,58.00 L520.89,57.46 L521.32,56.92 L521.75,56.38 L522.18,55.84 L522.61,55.31 L523.04,54.77 L523.47,54.23 L523.90,53.69 L524.32,53.15 L524.75,52.61 L525.18,52.07 L525.61,51.53 L526.04,50.99 L526.47,50.45 L526.90,49.91 L527.33,49.38 L527.75,48.84 L528.18,48.30 L528.61,47.76 L529.04,47.22 L529.47,46.68 L529.90,46.14 L530.33,45.60 L530.75,45.06 L531.18,44.52 L531.61,43.98 L532.04,43.44 L532.47,42.90 L532.90,42.36 L533.33,41.82 L533.76,41.28 L534.18,40.74 L534.61,40.20 L535.04,39.66 L535.47,39.12 L535.90,38.58 L536.33,38.04 L536.76,37.50 L537.19,36.95 L537.61,36.41 L538.04,35.87 L538.47,35.33 L538.90,34.79"/>
<path class="c" stroke="#5a0ca6" d="M324.55,205.35 L324.98,205.35 L325.41,205.35 L325.84,205.35 L326.26,205.35 L326.69,205.35 L327.12,205.35 L327.55,205.35 L327.98,205.35 L328.41,205.35 L328.84,205.35 L329.27,205.35 L329.69,205.35 L330.12,205.35 L330.55,205.35 L330.98,205.35 L331.41,205.35 L331.84,205.35 L332.27,205.35 L332.70,205.35 L333.12,205.35 L333.55,205.35 L333.98,205.35 L334.41,205.35 L334.84,205.35 L335.27,205.35 L335.70,205.35 L336.12,205.35 L336.55,205.35 L336.98,205.35 L337.41,205.35 L337.84,205.35 L338.27,205.35 L338.70,205.35 L339.13,205.35 L339.55,205.35 L339.98,205.35 L340.41,205.35 L340.84,205.35 L341.27,205.35 L341.70,205.35 L342.13,205.35 L342.56,205.35 L342.98,205.35 L343.41,205.35 L343.84,205.35 L344.27,205.35 L344.70,205.35 L345.13,205.35 L345.56,205.35 L345.99,205.35 L346.41,205.35 L346.84,205.35 L347.27,205.35 L347.70,205.35 L348.13,205.35 L348.56,205.35 L348.99,205.35 L349.41,205.35 L349.84,205.35 L350.27,205.35 L350.70,205.35 L351.13,205.35 L351.56,205.35 L351.99,205.35 L352.42,205.35 L352.84,205.35 L353.27,205.35 L353.70,205.35 L354.13,205.35 L354.56,205.35 L354.99,205.35 L355.42,205.35 L355.85,205.35 L356.27,205.35 L356.70,205.35 L357.13,205.35 L357.56,205.35 L357.99,205.35 L358.42,205.35 L358.85,205.35 L359.27,205.35 L359.70,205.35 L360.13,205.35 L360.56,205.35 L360.99,205.35 L361.42,205.35 L361.85,205.35 L362.28,205.35 L362.70,205.35 L363.13,205.35 L363.56,205.35 L363.99,205.35 L364.42,205.35 L364.85,205.35 L365.28,205.35 L365.71,205.35 L366.13,205.35 L366.56,205.35 L366.99,205.35 L367.42,205.35 L367.85,205.35 L368.28,205.35 L368.71,205.35 L369.13,205.35 L369.56,205.35 L369.99,205.35 L370.42,205.35 L370.85,205.35 L371.28,205.35 L371.71,205.35 L372.14,205.35 L372.56,205.35 L372.99,205.35 L373.42,205.35 L373.85,205.35 L374.28,205.35 L374.71,205.35 L375.14,205.35 L375.57,205.35 L375.99,205.35 L376.42,205.35 L376.85,205.35 L377.28,205.35 L377.71,205.35 L378.14,205.35 L378.57,205.35 L378.99,205.35 L379.42,205.35 L379.85,205.35 L380.28,205.35 L380.71,205.35 L381.14,205.35 L381.57,205.35 L382.00,205.35 L382.42,205.35 L382.85,205.35 L383.28,205.35 L383.71,205.35 L384.14,205.35 L384.57,205.35 L385.00,205.35 L385.43,205.35 L385.85,205.35 L386.28,205.35 L386.71,205.35 L387.14,205.35 L387.57,205.35 L388.00,205.35 L388.43,205.35 L388.86,205.35 L389.28,205.35 L389.71,205.35 L390.14,205.35 L390.57,205.35 L391.00,205.35 L391.43,205.35 L391.86,205.35 L392.28,205.35 L392.71,205.35 L393.14,205.35 L393.57,205.35 L394.00,205.35 L394.43,205.35 L394.86,205.35 L395.29,205.35 L395.71,205.35 L396.14,205.35 L396.57,205.35 L397.00,205.35 L397.43,205.35 L397.86,205.35 L398.29,205.35 L398.72,205.35 L399.14,205.35 L399.57,205.35 L400.00,205.35 L400.43,205.35 L400.86,205.35 L401.29,205.35 L401.72,205.35 L402.14,205.35 L402.57,205.35 L403.00,205.35 L403.43,205.35 L403.86,205.35 L404.29,205.35 L404.72,205.35 L405.15,205.35 L405.57,205.35 L406.00,205.35 L406.43,205.35 L406.86,205.35 L407.29,205.35 L407.72,205.35 L408.15,205.35 L408.58,205.35 L409.00,205.35 L409.43,205.35 L409.86,205.35 L410.29,205.35 L410.72,205.35 L411.15,205.35 L411.58,205.35 L412.00,205.35 L412.43,205.35 L412.86,205.35 L413.29,205.35 L413.72,205.35 L414.15,205.35 L414.58,205.35 L415.01,205.35 L415.43,205.35 L415.86,205.35 L416.29,205.35 L416.72,205.35 L417.15,205.35 L417.58,205.35 L418.01,205.35 L418.44,205.35 L418.86,205.35 L419.29,205.35 L419.72,205.35 L420.15,205.35 L420.58,205.35 L421.01,205.35 L421.44,205.35 L421.86,205.35 L422.29,205.35 L422.72,205.35 L423.15,205.35 L423.58,205.35 L424.01,205.35 L424.44,205.35 L424.87,205.35 L425.29,205.35 L425.72,205.35 L426.15,205.35 L426.58,205.35 L427.01,205.35 L427.44,205.35 L427.87,205.35 L428.30,205.35 L428.72,205.35 L429.15,205.35 L429.58,205.35 L430.01,205.35 L430.44,205.35 L430.87,205.35 L431.30,205.35 L431.73,205.35 L432.15,205.35 L432.58,205.35 L433.01,205.35 L433.44,205.35 L433.87,205.35 L434.30,205.35 L434.73,205.35 L435.15,205.35 L435.58,205.35 L436.01,205.35 L436.44,205.35 L436.87,205.35 L437.30,205.35 L437.73,205.35 L438.16,205.35 L438.58,205.35 L439.01,205.35 L439.44,205.35 L439.87,205.35 L440.30,205.35 L440.73,205.35 L441.16,205.35 L441.59,205.35 L442.01,205.35 L442.44,205.35 L442.87,205.35 L443.30,205.35 L443.73,205.35 L444.16,205.35 L444.59,205.35 L445.01,205.35 L445.44,205.35 L445.87,205.35 L446.30,205.35 L446.73,205.35 L447.16,205.35 L447.59,205.35 L448.02,205.35 L448.44,205.35 L448.87,205.35 L449.30,205.35 L449.73,205.35 L450.16,205.35 L450.59,205.35 L451.02,205.35 L451.45,205.35 L451.87,205.35 L452.30,205.35 L452.73,205.35 L453.16,205.35 L453.59,205.35 L454.02,205.11 L454.45,204.81 L454.87,204.51 L455.30,204.20 L455.73,203.88 L456.16,203.55 L456.59,203.22 L457.02,202.88 L457.45,202.54 L457.88,202.19 L458.30,201.83 L458.73,201.47 L459.16,201.10 L459.59,200.73 L460.02,200.35 L460.45,199.97 L460.88,199.59 L461.31,199.20 L461.73,198.80 L462.16,198.41 L462.59,198.01 L463.02,197.60 L463.45,197.20 L463.88,196.79 L464.31,196.37 L464.73,195.96 L465.16,195.54 L465.59,195.13 L466.02,194.71 L466.45,194.29 L466.88,193.86 L467.31,193.44 L467.74,193.02 L468.16,192.59 L468.59,192.17 L469.02,191.74 L469.45,191.32 L469.88,190.90 L470.31,190.47 L470.74,190.05 L471.17,189.63 L471.59,189.21 L472.02,188.79 L472.45,188.37 L472.88,187.95 L473.31,187.52 L473.74,187.10 L474.17,186.66 L474.59,186.23 L475.02,185.79 L475.45,185.35 L475.88,184.91 L476.31,184.47 L476.74,184.02 L477.17,183.57 L477.60,183.12 L478.02,182.67 L478.45,182.21 L478.88,181.76 L479.31,181.30 L479.74,180.84 L480.17,180.38 L480.60,179.92 L481.03,179.45 L481.45,178.98 L481.88,178.52 L482.31,178.05 L482.74,177.58 L483.17,177.11 L483.60,176.63 L484.03,176.16 L484.46,175.68 L484.88,175.21 L485.31,174.73 L485.74,174.25 L486.17,173.77 L486.60,173.29 L487.03,172.81 L487.46,172.33 L487.88,171.85 L488.31,171.37 L488.74,170.88 L489.17,170.40 L489.60,169.91 L490.03,169.42 L490.46,168.94 L490.89,168.45 L491.31,167.96 L491.74,167.47 L492.17,166.98 L492.60,166.49 L493.03,166.00 L493.46,165.51 L493.89,165.01 L494.32,164.52 L494.74,164.03 L495.17,163.53 L495.60,163.04 L496.03,162.54 L496.46,162.05 L496.89,161.55 L497.32,161.05 L497.74,160.56 L498.17,160.06 L498.60,159.56 L499.03,159.06 L499.46,158.56 L499.89,158.06 L500.32,157.56 L500.75,157.06 L501.17,156.56 L501.60,156.06 L502.03,155.55 L502.46,155.05 L502.89,154.55 L503.32,154.04 L503.75,153.54 L504.18,153.03 L504.60,152.53 L505.03,152.02 L505.46,151.52 L505.89,151.01 L506.32,150.50 L506.75,150.00 L507.18,149.49 L507.60,148.98 L508.03,148.47 L508.46,147.96 L508.89,147.46 L509.32,146.95 L509.75,146.44 L510.18,145.92 L510.61,145.41 L511.03,144.90 L511.46,144.39 L511.89,143.88 L512.32,143.37 L512.75,142.85 L513.18,142.34 L513.61,141.83 L514.04,141.31 L514.46,140.80 L514.89,140.28 L515.32,139.77 L515.75,139.25 L516.18,138.73 L516.61,138.22 L517.04,137.70 L517.46,137.18 L517.89,136.66 L518.32,136.15 L518.75,135.63 L519.18,135.11 L519.61,134.59 L520.04,134.07 L520.47,133.55 L520.89,133.03 L521.32,132.51 L521.75,131.99 L522.18,131.46 L522.61,130.94 L523.04,130.42 L523.47,129.90 L523.90,129.37 L524.32,128.85 L524.75,128.32 L525.18,127.80 L525.61,127.27 L526.04,126.75 L526.47,126.22 L526.90,125.70 L527.33,125.17 L527.75,124.64 L528.18,124.12 L528.61,123.59 L529.04,123.06 L529.47,122.53 L529.90,122.00 L530.33,121.47 L530.75,120.94 L531.18,120.41 L531.61,119.88 L532.04,119.35 L532.47,118.82 L532.90,118.29 L533.33,117.76 L533.76,117.22 L534.18,116.69 L534.61,116.16 L535.04,115.62 L535.47,115.09 L535.90,114.56 L536.33,114.02 L536.76,113.49 L537.19,112.95 L537.61,112.41 L538.04,111.88 L538.47,111.34 L538.90,110.80"/>
<path class="c" stroke="#ff0000" d="M324.55,205.35 L324.98,205.35 L325.41,205.35 L325.84,205.35 L326.26,205.35 L326.69,205.35 L327.12,205.35 L327.55,205.35 L327.98,205.35 L328.41,205.35 L328.84,205.35 L329.27,205.35 L329.69,205.35 L330.12,205.35 L330.55,205.35 L330.98,205.35 L331.41,205.35 L331.84,205.35 L332.27,205.35 L332.70,205.35 L333.12,205.35 L333.55,205.35 L333.98,205.35 L334.41,205.35 L334.84,205.35 L335.27,205.35 L335.70,205.35 L336.12,205.35 L336.55,205.35 L336.98,205.35 L337.41,205.35 L337.84,205.35 L338.27,205.35 L338.70,205.35 L339.13,205.35 L339.55,205.35 L339.98,205.35 L340.41,205.35 L340.84,205.35 L341.27,205.35 L341.70,205.35 L342.13,205.35 L342.56,205.35 L342.98,205.35 L343.41,205.35 L343.84,205.35 L344.27,205.35 L344.70,205.35 L345.13,205.35 L345.56,205.35 L345.99,205.35 L346.41,205.35 L346.84,205.35 L347.27,205.35 L347.70,205.35 L348.13,205.35 L348.56,205.35 L348.99,205.35 L349.41,205.35 L349.84,205.35 L350.27,205.35 L350.70,205.35 L351.13,205.35 L351.56,205.35 L351.99,205.35 L352.42,205.35 L352.84,205.35 L353.27,205.35 L353.70,205.35 L354.13,205.35 L354.56,205.35 L354.99,205.35 L355.42,205.35 L355.85,205.35 L356.27,205.35 L356.70,205.35 L357.13,205.35 L357.56,205.35 L357.99,205.35 L358.42,205.35 L358.85,205.35 L359.27,205.35 L359.70,205.35 L360.13,205.35 L360.56,205.35 L360.99,205.35 L361.42,205.35 L361.85,205.35 L362.28,205.35 L362.70,205.35 L363.13,205.35 L363.56,205.35 L363.99,205.35 L364.42,205.35 L364.85,205.35 L365.28,205.35 L365.71,205.35 L366.13,205.35 L366.56,205.35 L366.99,205.35 L367.42,205.35 L367.85,205.35 L368.28,205.35 L368.71,205.35 L369.13,205.35 L369.56,205.35 L369.99,205.35 L370.42,205.35 L370.85,205.35 L371.28,205.35 L371.71,205.35 L372.14,205.35 L372.56,205.35 L372.99,205.35 L373.42,205.35 L373.85,205.35 L374.28,205.35 L374.71,205.35 L375.14,205.35 L375.57,205.35 L375.99,205.35 L376.42,205.35 L376.85,205.35 L377.28,205.35 L377.71,205.35 L378.14,205.35 L378.57,205.35 L378.99,205.35 L379.42,205.35 L379.85,205.35 L380.28,205.35 L380.71,205.35 L381.14,205.35 L381.57,205.35 L382.00,205.35 L382.42,205.35 L382.85,205.35 L383.28,205.35 L383.71,205.35 L384.14,205.35 L384.57,205.35 L385.00,205.35 L385.43,205.35 L385.85,205.35 L386.28,205.35 L386.71,205.35 L387.14,205.35 L387.57,205.35 L388.00,205.35 L388.43,205.35 L388.86,205.35 L389.28,205.35 L389.71,205.35 L390.14,205.35 L390.57,205.35 L391.00,205.35 L391.43,205.35 L391.86,205.35 L392.28,205.35 L392.71,205.35 L393.14,205.35 L393.57,205.35 L394.00,205.35 L394.43,205.34 L394.86,205.32 L395.29,205.31 L395.71,205.29 L396.14,205.27 L396.57,205.24 L397.00,205.21 L397.43,205.17 L397.86,205.13 L398.29,205.09 L398.72,205.03 L399.14,204.97 L399.57,204.90 L400.00,204.83 L400.43,204.75 L400.86,204.66 L401.29,204.56 L401.72,204.46 L402.14,204.35 L402.57,204.24 L403.00,204.12 L403.43,204.00 L403.86,203.88 L404.29,203.75 L404.72,203.62 L405.15,203.48 L405.57,203.35 L406.00,203.21 L406.43,203.07 L406.86,202.92 L407.29,202.78 L407.72,202.63 L408.15,202.49 L408.58,202.34 L409.00,202.19 L409.43,202.04 L409.86,201.89 L410.29,201.74 L410.72,201.59 L411.15,201.44 L411.58,201.28 L412.00,201.13 L412.43,200.97 L412.86,200.82 L413.29,200.66 L413.72,200.50 L414.15,200.35 L414.58,200.19 L415.01,200.03 L415.43,199.87 L415.86,199.71 L416.29,199.55 L416.72,199.39 L417.15,199.22 L417.58,199.06 L418.01,198.90 L418.44,198.73 L418.86,198.57 L419.29,198.40 L419.72,198.23 L420.15,198.07 L420.58,197.90 L421.01,197.73 L421.44,197.56 L421.86,197.39 L422.29,197.22 L422.72,197.04 L423.15,196.87 L423.58,196.70 L424.01,196.52 L424.44,196.35 L424.87,196.17 L425.29,195.99 L425.72,195.82 L426.15,195.64 L426.58,195.46 L427.01,195.28 L427.44,195.09 L427.87,194.91 L428.30,194.73 L428.72,194.54 L429.15,194.36 L429.58,194.17 L430.01,193.98 L430.44,193.79 L430.87,193.60 L431.30,193.41 L431.73,193.22 L432.15,193.03 L432.58,192.83 L433.01,192.63 L433.44,192.44 L433.87,192.24 L434.30,192.04 L434.73,191.84 L435.15,191.63 L435.58,191.43 L436.01,191.22 L436.44,191.02 L436.87,190.81 L437.30,190.60 L437.73,190.39 L438.16,190.17 L438.58,189.96 L439.01,189.74 L439.44,189.52 L439.87,189.30 L440.30,189.08 L440.73,188.86 L441.16,188.63 L441.59,188.40 L442.01,188.17 L442.44,187.94 L442.87,187.71 L443.30,187.47 L443.73,187.24 L444.16,187.00 L444.59,186.76 L445.01,186.51 L445.44,186.27 L445.87,186.02 L446.30,185.77 L446.73,185.51 L447.16,185.26 L447.59,185.00 L448.02,184.74 L448.44,184.48 L448.87,184.21 L449.30,183.95 L449.73,183.67 L450.16,183.40 L450.59,183.13 L451.02,182.85 L451.45,182.57 L451.87,182.28 L452.30,181.99 L452.73,181.70 L453.16,181.41 L453.59,181.12 L454.02,180.82 L454.45,180.51 L454.87,180.21 L455.30,179.90 L455.73,179.58 L456.16,179.27 L456.59,178.95 L457.02,178.63 L457.45,178.30 L457.88,177.97 L458.30,177.63 L458.73,177.30 L459.16,176.95 L459.59,176.61 L460.02,176.26 L460.45,175.91 L460.88,175.55 L461.31,175.19 L461.73,174.82 L462.16,174.46 L462.59,174.08 L463.02,173.71 L463.45,173.33 L463.88,172.95 L464.31,172.56 L464.73,172.17 L465.16,171.78 L465.59,171.38 L466.02,170.98 L466.45,170.57 L466.88,170.17 L467.31,169.76 L467.74,169.34 L468.16,168.93 L468.59,168.51 L469.02,168.09 L469.45,167.66 L469.88,167.23 L470.31,166.80 L470.74,166.37 L471.17,165.94 L471.59,165.50 L472.02,165.06 L472.45,164.62 L472.88,164.17 L473.31,163.73 L473.74,163.28 L474.17,162.83 L474.59,162.38 L475.02,161.92 L475.45,161.47 L475.88,161.01 L476.31,160.55 L476.74,160.09 L477.17,159.63 L477.60,159.17 L478.02,158.70 L478.45,158.23 L478.88,157.77 L479.31,157.30 L479.74,156.83 L480.17,156.36 L480.60,155.89 L481.03,155.41 L481.45,154.94 L481.88,154.46 L482.31,153.99 L482.74,153.51 L483.17,153.03 L483.60,152.55 L484.03,152.07 L484.46,151.59 L484.88,151.11 L485.31,150.63 L485.74,150.14 L486.17,149.66 L486.60,149.17 L487.03,148.69 L487.46,148.20 L487.88,147.71 L488.31,147.23 L488.74,146.74 L489.17,146.25 L489.60,145.76 L490.03,145.27 L490.46,144.78 L490.89,144.29 L491.31,143.80 L491.74,143.30 L492.17,142.81 L492.60,142.32 L493.03,141.82 L493.46,141.33 L493.89,140.83 L494.32,140.34 L494.74,139.84 L495.17,139.35 L495.60,138.85 L496.03,138.35 L496.46,137.85 L496.89,137.36 L497.32,136.86 L497.74,136.36 L498.17,135.86 L498.60,135.36 L499.03,134.86 L499.46,134.36 L499.89,133.85 L500.32,133.35 L500.75,132.85 L501.17,132.35 L501.60,131.84 L502.03,131.34 L502.46,130.83 L502.89,130.33 L503.32,129.82 L503.75,129.32 L504.18,128.81 L504.60,128.31 L505.03,127.80 L505.46,127.29 L505.89,126.79 L506.32,126.28 L506.75,125.77 L507.18,125.26 L507.60,124.75 L508.03,124.24 L508.46,123.73 L508.89,123.22 L509.32,122.71 L509.75,122.20 L510.18,121.69 L510.61,121.17 L511.03,120.66 L511.46,120.15 L511.89,119.64 L512.32,119.12 L512.75,118.61 L513.18,118.09 L513.61,117.58 L514.04,117.06 L514.46,116.55 L514.89,116.03 L515.32,115.52 L515.75,115.00 L516.18,114.48 L516.61,113.96 L517.04,113.45 L517.46,112.93 L517.89,112.41 L518.32,111.89 L518.75,111.37 L519.18,110.85 L519.61,110.33 L520.04,109.81 L520.47,109.29 L520.89,108.77 L521.32,108.24 L521.75,107.72 L522.18,107.20 L522.61,106.68 L523.04,106.15 L523.47,105.63 L523.90,105.10 L524.32,104.58 L524.75,104.05 L525.18,103.53 L525.61,103.00 L526.04,102.48 L526.47,101.95 L526.90,101.42 L527.33,100.90 L527.75,100.37 L528.18,99.84 L528.61,99.31 L529.04,98.78 L529.47,98.25 L529.90,97.72 L530.33,97.19 L530.75,96.66 L531.18,96.13 L531.61,95.60 L532.04,95.07 L532.47,94.54 L532.90,94.00 L533.33,93.47 L533.76,92.94 L534.18,92.40 L534.61,91.87 L535.04,91.33 L535.47,90.80 L535.90,90.26 L536.33,89.73 L536.76,89.19 L537.19,88.66 L537.61,88.12 L538.04,87.58 L538.47,87.04 L538.90,86.51"/>
</g>
<rect x="324.55" y="9.6" width="214.35" height="196.10" fill="none" stroke="#000" stroke-width="1.5"/>
<path d="M324.55,205.7v-3.9M324.55,9.6v3.9M345.99,205.7v-2.3M345.99,9.6v2.3M367.42,205.7v-3.9M367.42,9.6v3.9M388.86,205.7v-2.3M388.86,9.6v2.3M410.29,205.7v-3.9M410.29,9.6v3.9M431.73,205.7v-2.3M431.73,9.6v2.3M453.16,205.7v-3.9M453.16,9.6v3.9M474.59,205.7v-2.3M474.59,9.6v2.3M496.03,205.7v-3.9M496.03,9.6v3.9M517.46,205.7v-2.3M517.46,9.6v2.3M538.90,205.7v-3.9M538.90,9.6v3.9M324.55,205.40h3.9M538.9,205.40h-3.9M324.55,172.77h3.9M538.9,172.77h-3.9M324.55,140.13h3.9M538.9,140.13h-3.9M324.55,107.50h3.9M538.9,107.50h-3.9M324.55,74.87h3.9M538.9,74.87h-3.9M324.55,42.23h3.9M538.9,42.23h-3.9M324.55,9.60h3.9M538.9,9.60h-3.9M324.55,189.08h2.3M538.9,189.08h-2.3M324.55,156.45h2.3M538.9,156.45h-2.3M324.55,123.82h2.3M538.9,123.82h-2.3M324.55,91.18h2.3M538.9,91.18h-2.3M324.55,58.55h2.3M538.9,58.55h-2.3M324.55,25.92h2.3M538.9,25.92h-2.3" stroke="#000" stroke-width="1.25" fill="none"/>
<text transform="translate(324.55,219.3) scale(1,1)" text-anchor="middle" class="tk">−0.5</text>
<text transform="translate(367.42,219.3) scale(1,1)" text-anchor="middle" class="tk">0.0</text>
<text transform="translate(410.29,219.3) scale(1,1)" text-anchor="middle" class="tk">0.5</text>
<text transform="translate(453.16,219.3) scale(1,1)" text-anchor="middle" class="tk">1.0</text>
<text transform="translate(496.03,219.3) scale(1,1)" text-anchor="middle" class="tk">1.5</text>
<text transform="translate(538.90,219.3) scale(1,1)" text-anchor="middle" class="tk">2.0</text>
<text transform="translate(320.55,209.15) scale(1,1)" text-anchor="end" class="tk">0</text>
<text transform="translate(320.55,176.52) scale(1,1)" text-anchor="end" class="tk">1</text>
<text transform="translate(320.55,143.88) scale(1,1)" text-anchor="end" class="tk">2</text>
<text transform="translate(320.55,111.25) scale(1,1)" text-anchor="end" class="tk">3</text>
<text transform="translate(320.55,78.62) scale(1,1)" text-anchor="end" class="tk">4</text>
<text transform="translate(320.55,45.98) scale(1,1)" text-anchor="end" class="tk">5</text>
<text transform="translate(320.55,13.35) scale(1,1)" text-anchor="end" class="tk">6</text>
<text transform="translate(431.8,241.1) scale(1,1)" text-anchor="middle" class="ax" style="font-size:14.5px;word-spacing:0.8px">Gate voltage <tspan font-style="italic">V</tspan><tspan font-style="italic" font-size="9.2" dy="2.3" dx="-0.7">G</tspan><tspan dy="-2.3" dx="0.5"> (V)</tspan></text>
<text transform="translate(299.9,108.0) rotate(-90) scale(0.993,1)" text-anchor="middle" class="ax">Mobilie charge <tspan font-style="italic">Q</tspan> (μC/cm<tspan font-size="9.6" dy="-5.8">2</tspan><tspan dy="5.8">)</tspan></text>
<text transform="translate(331.0,28.1) scale(1.03,1)" class="pl">(b)</text>
<text transform="translate(463.6,104.0) scale(1,1)" class="cl" fill="#0fb464" stroke="#0fb464">JL</text>
<text transform="translate(481.7,130.4) scale(1,1)" class="cl" fill="#ff0000" stroke="#ff0000">CS</text>
<text transform="translate(513.4,155.1) scale(1,1)" class="cl" fill="#5a0ca6" stroke="#5a0ca6">FD</text>
</svg>
</body></html>
